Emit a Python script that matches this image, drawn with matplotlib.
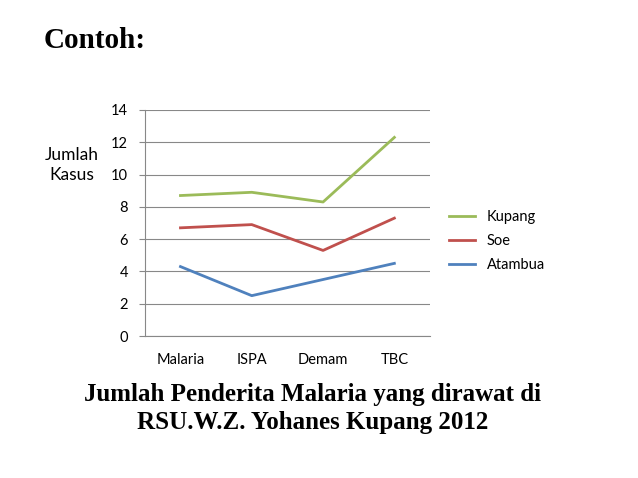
import matplotlib.pyplot as plt

categories = ['Malaria', 'ISPA', 'Demam', 'TBC']
kupang = [8.7, 8.9, 8.3, 12.3]
soe = [6.7, 6.9, 5.3, 7.3]
atambua = [4.3, 2.5, 3.5, 4.5]

plt.rcParams['font.family'] = ['Lato', 'DejaVu Sans']
fig = plt.figure(figsize=(6.38, 4.78), dpi=100)
ax = fig.add_axes([0.227, 0.297, 0.447, 0.473])

x = range(len(categories))
ax.plot(x, kupang, color='#9BBB59', lw=2, label='Kupang')
ax.plot(x, soe, color='#C0504D', lw=2, label='Soe')
ax.plot(x, atambua, color='#4F81BD', lw=2, label='Atambua')

ax.set_xlim(-0.5, 3.5)
ax.set_ylim(0, 14)
ax.set_yticks(range(0, 15, 2))
ax.set_xticks(list(x))
ax.set_xticklabels(categories)
ax.yaxis.grid(True, color='#888888', lw=0.8)
ax.set_axisbelow(True)
for s in ['top', 'right']:
    ax.spines[s].set_visible(False)
ax.spines['left'].set_color('#888888')
ax.spines['bottom'].set_color('#888888')
ax.tick_params(axis='x', length=0, pad=12, labelsize=10.5)
ax.tick_params(axis='y', length=4, color='#888888', pad=8, labelsize=10.5, direction='out')

ax.legend(loc='center left', bbox_to_anchor=(1.02, 0.42), frameon=False, fontsize=10.5,
          handlelength=1.8, labelspacing=0.7)

fig.text(0.112, 0.655, 'Jumlah\nKasus', ha='center', va='center', fontsize=12.5, linespacing=1.3)
fig.text(0.068, 0.9, 'Contoh:', fontsize=21, fontweight='bold', family='Liberation Serif')
fig.text(0.49, 0.145, 'Jumlah Penderita Malaria yang dirawat di\nRSU.W.Z. Yohanes Kupang 2012',
         ha='center', va='center', fontsize=18, fontweight='bold', family='Liberation Serif',
         linespacing=1.3)

fig.savefig('out.png', dpi=100)
